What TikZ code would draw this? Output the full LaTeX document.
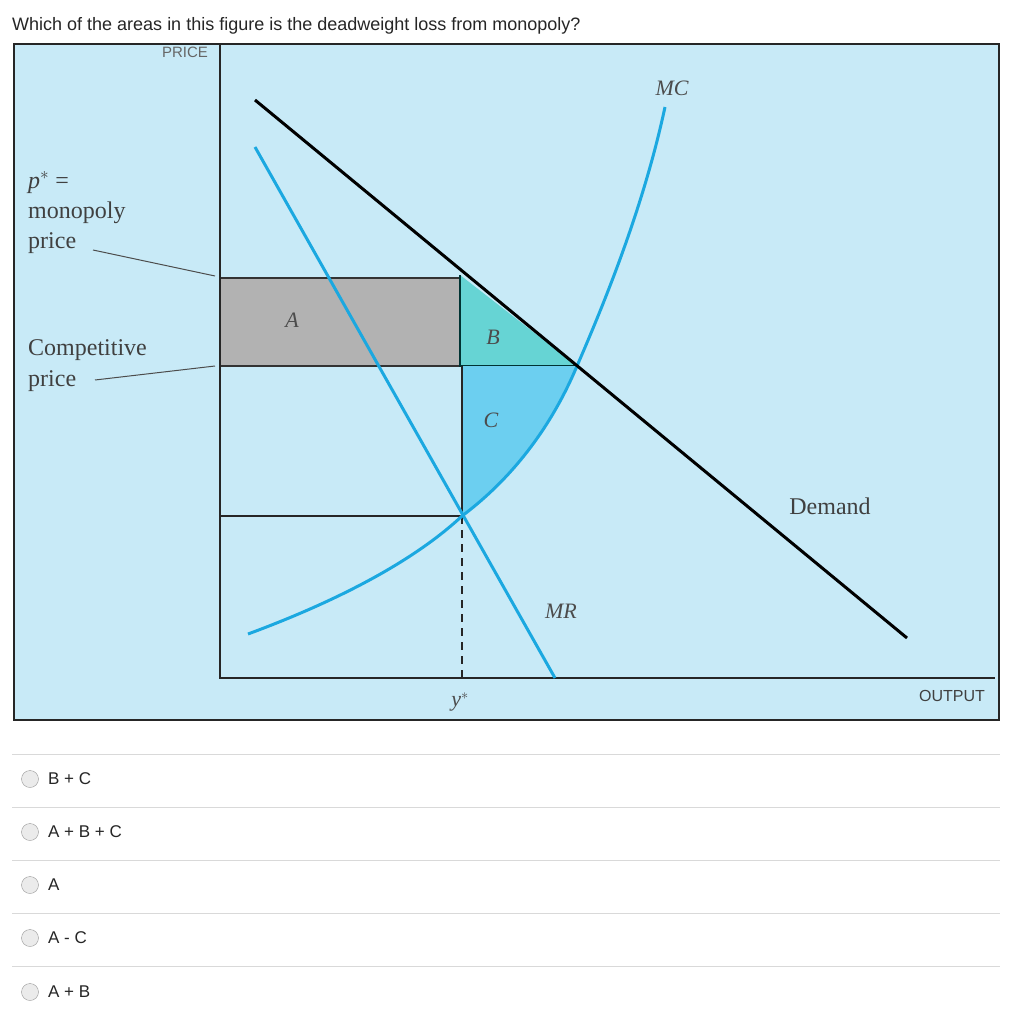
\documentclass[tikz,border=0pt]{standalone}
\usepackage{fontspec}
\setmainfont{Liberation Serif}
\setsansfont{Liberation Sans}
\begin{document}
\begin{tikzpicture}[x=1pt,y=-1pt,
  lbl/.style={font=\fontsize{24}{24}\selectfont, text=black!75, inner sep=0pt},
  ilbl/.style={font=\fontsize{22}{22}\selectfont\itshape, text=black!70, inner sep=0pt},
  opt/.style={font=\sffamily\fontsize{17}{17}\selectfont, text=black!85, anchor=west, inner sep=0pt},
  sep/.style={draw=black!15, line width=0.8pt},
  radio/.style={circle, draw=black!40, fill=black!8, minimum size=17pt, inner sep=0pt},
  cblue/.style={draw=cyan!80!blue, line width=3pt},
  blk/.style={draw=black, line width=2pt}]
\definecolor{bgblue}{HTML}{C8EAF7}
\definecolor{bfill}{HTML}{66D4D4}
\definecolor{cfill}{HTML}{6CCFF0}
\definecolor{cb}{HTML}{1BA8E0}
\useasboundingbox (0,0) rectangle (1020,1024);
\fill[white] (0,0) rectangle (1020,1024);
\node[font=\sffamily\fontsize{18}{18}\selectfont, text=black!85, anchor=west, inner sep=0pt] (title) at (12,26) {Which of the areas in this figure is the deadweight loss from monopoly?};
\draw[fill=bgblue, draw=black!85, line width=1.5pt] (14,44) rectangle (999,720);
% areas
\fill[black!30] (220,278) rectangle (460,366);
\draw[black!80, line width=1.5pt] (220,278) -- (460,278) (220,366) -- (460,366);
\fill[bfill] (460,275) -- (460,366) -- (577,366) -- cycle;
\draw[draw=black!60!teal, line width=1.5pt] (460,275) -- (460,366) -- (577,366);
\fill[cfill] (462,366) -- (577,366) .. controls (550,430) and (510,480) .. (462,516) -- cycle;
% axes
\draw[black!85, line width=2pt] (220,44) -- (220,678) -- (995,678);
\draw[black!85, line width=2pt] (220,516) -- (462,516) -- (462,366);
\draw[black!85, line width=1.2pt, dash pattern=on 8pt off 6pt] (462,516) -- (462,678);
% curves
\draw[draw=cb, line width=3pt] (255,147) -- (555,678);
\draw[draw=cb, line width=3pt] (248,634) .. controls (340,600) and (415,560) .. (462,516)
  .. controls (510,480) and (550,430) .. (577,366) .. controls (610,290) and (645,200) .. (665,107);
\draw[black, line width=3pt] (255,100) -- (907,638);
% labels
\node[ilbl] (mc) at (672,88) {MC};
\node[lbl] (dem) at (830,506) {Demand};
\node[ilbl] (mr) at (561,611) {MR};
\node[ilbl] (ys) at (460,702) {y$^{*}$};
\node[font=\sffamily\fontsize{16}{16}\selectfont, text=black!75, inner sep=0pt] (out) at (952,696) {OUTPUT};
\node[font=\sffamily\fontsize{15}{15}\selectfont, text=black!60, inner sep=0pt] (pr) at (185,52) {PRICE};
\node[ilbl] (a) at (292,320) {A};
\node[ilbl] (b) at (493,337) {B};
\node[ilbl] (c) at (491,420) {C};
\node[lbl, anchor=west] (p1) at (28,183) {\textit{p}$^{*}$ =};
\node[lbl, anchor=west] (p2) at (28,213) {monopoly};
\node[lbl, anchor=west] (p3) at (28,243) {price};
\coordinate (m1) at (215,276);
\draw[black!70, line width=1pt] (93,250) -- (m1);
\node[lbl, anchor=west] (c1) at (28,350) {Competitive};
\node[lbl, anchor=west] (c2) at (28,381) {price};
\coordinate (m2) at (215,366);
\draw[black!70, line width=1pt] (95,380) -- (m2);
% options
\foreach \y in {754,807,860,913,966} \draw[sep] (12,\y) -- (1000,\y);
\node[radio] (r1) at (30,779) {}; \node[opt] (o1) at (48,779) {B + C};
\node[radio] (r2) at (30,832) {}; \node[opt] (o2) at (48,832) {A + B + C};
\node[radio] (r3) at (30,885) {}; \node[opt] (o3) at (48,885) {A};
\node[radio] (r4) at (30,938) {}; \node[opt] (o4) at (48,938) {A - C};
\node[radio] (r5) at (30,992) {}; \node[opt] (o5) at (48,992) {A + B};
\end{tikzpicture}
\end{document}
